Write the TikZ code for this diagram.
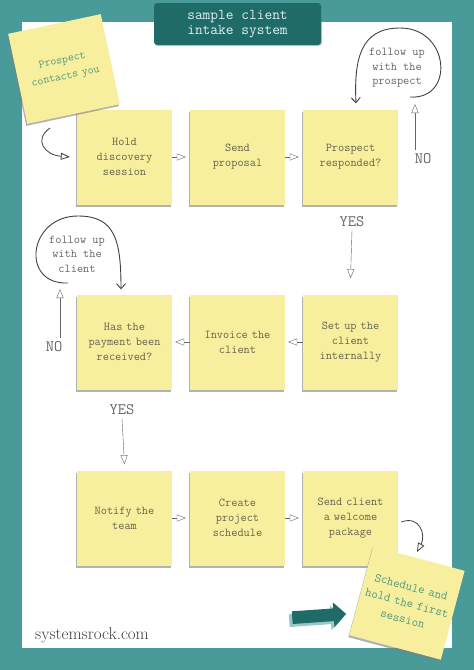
\documentclass[tikz,border=0pt]{standalone}
\usepackage{tikz}
\usetikzlibrary{shapes.arrows, arrows.meta, shadows}
\definecolor{cloth}{HTML}{489B98}
\definecolor{darkteal}{HTML}{1F6B68}
\definecolor{noteyellow}{HTML}{F8EF9E}
\definecolor{inkgray}{HTML}{66644E}
\definecolor{notegreen}{HTML}{4E9A80}
\tikzstyle{postit} = [rectangle, minimum width=95pt, minimum height=95pt,
fill=noteyellow, text width=88pt, align=center, text=inkgray,
font=\ttfamily\fontsize{12}{15}\selectfont,
drop shadow={shadow xshift=-1pt, shadow yshift=-2pt, fill=black!50, opacity=0.6}]
\tikzstyle{tilted} = [postit, minimum width=92pt, minimum height=92pt, text=notegreen,
font=\ttfamily\fontsize{12.5}{16.5}\selectfont]
\tikzstyle{arrow} = [thin, draw=black!60, -{Triangle[open,length=9pt,width=7pt]}]
\tikzstyle{swirl} = [line width=0.9pt, draw=black!75, -{Straight Barb[length=5pt,width=9pt]}]
\tikzstyle{answer} = [text=black!60, font=\ttfamily\fontsize{16}{16}\selectfont]
\tikzstyle{aside} = [align=center, text=black!60, font=\ttfamily\fontsize{12}{14.5}\selectfont]
\begin{document}
\begin{tikzpicture}[x=1pt, y=-1pt, node distance=113pt]
\useasboundingbox (0,0) rectangle (474,670);
\fill [cloth] (0,0) rectangle (474,670);
\fill [white] (22,22) rectangle (452,648);

% title
\node (title) [fill=darkteal, rounded corners=3pt, minimum width=167pt, minimum height=42pt,
  text=white!85!cloth, align=center, font=\ttfamily\fontsize{15}{15}\selectfont,
  drop shadow={shadow xshift=1pt, shadow yshift=-1pt, opacity=0.4}] at (237.5,24)
  {sample client\\intake system};

% the nine steps
\node (hold) [postit] at (124.5,157) {Hold\\discovery\\session};
\node (send) [postit, right of=hold] {Send\\proposal};
\node (resp) [postit, right of=send] {Prospect\\responded?};
\node (setup) [postit, node distance=185pt, below of=resp] {Set up the\\client\\internally};
\node (invoice) [postit, left of=setup] {Invoice the\\client};
\node (paid) [postit, left of=invoice] {Has the\\payment been\\received?};
\node (notify) [postit, node distance=176pt, below of=paid] {Notify the\\team};
\node (plan) [postit, right of=notify] {Create\\project\\schedule};
\node (welcome) [postit, right of=plan] {Send client\\a welcome\\package};

% start and end notes
\node (contact) [tilted, rotate=12, font=\ttfamily\fontsize{11.5}{16.5}\selectfont] at (64,69) {Prospect\\contacts you};
\node (first) [tilted, rotate=-15] at (407,603) {Schedule and\\hold the first\\session};

\draw [arrow, shorten >=4pt] (hold) -- (send);
\draw [arrow, shorten >=4pt] (send) -- (resp);
\draw [arrow, shorten >=3pt] (setup) -- (invoice);
\draw [arrow, shorten >=3pt] (invoice) -- (paid);
\draw [arrow, shorten >=4pt] (notify) -- (plan);
\draw [arrow, shorten >=4pt] (plan) -- (welcome);

% prospect loop
\node (askagain) [aside] at (397,68) {follow up\\with the\\prospect};
\coordinate (askstart) at (410,97);
\coordinate (askup) at (415,104);
\node (no1) [answer] at (423,159) {NO};
\draw [arrow] ([xshift=-8pt]no1.north) -- (askup);
\draw [swirl] (askstart) .. controls (455,100) and (450,28) .. (400,28)
  .. controls (360,28) and (354,60) .. ([xshift=5.5pt,yshift=6pt]resp.north);
\node (yes1) [answer] at (352,222) {YES};
\draw [arrow] (yes1.south) -- ([yshift=16pt]setup.north);

% payment loop
\node (remind) [aside] at (77,254) {follow up\\with the\\client};
\coordinate (remindstart) at (68,283);
\coordinate (remindup) at (60,289);
\node (no2) [answer] at (54,347) {NO};
\draw [arrow] ([xshift=6pt]no2.north) -- (remindup);
\draw [swirl] (remindstart) .. controls (20,285) and (28,216) .. (78,216)
  .. controls (115,216) and (121,240) .. ([xshift=-3.5pt,yshift=5pt]paid.north);
\node (yes2) [answer] at (122,410) {YES};
\draw [arrow] (yes2.south) -- ([yshift=6pt]notify.north);

% curved links to the tilted notes
\coordinate (contactout) at (50,128);
\draw [arrow, line width=0.8pt, draw=black!75] (contactout) .. controls (33,140) and (45,155) .. ([xshift=-7pt]hold.west);
\draw [arrow, line width=0.8pt, draw=black!75] ([xshift=3pt,yshift=-4pt]welcome.east) .. controls (420,515) and (426,535) .. (417,552);

% big arrow
\node (go) [single arrow, fill=darkteal, minimum height=54pt, minimum width=25pt,
  single arrow head extend=6pt, inner sep=6pt, rotate=4,
  drop shadow={shadow xshift=-3pt, shadow yshift=-3pt, fill=cloth!55!white, opacity=1}] at (316,616) {};

\node (site) [text=black!75, font=\rmfamily\fontsize{17}{17}\selectfont] at (92,635) {systemsrock.com};
\end{tikzpicture}
\end{document}
